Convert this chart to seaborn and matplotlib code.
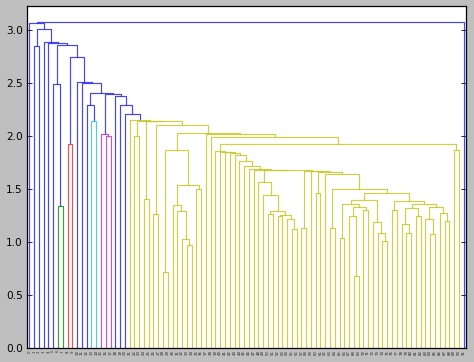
import numpy as np
import pandas as pd
import seaborn as sns
import matplotlib.pyplot as plt

# dendrogram: a node is (left, right, merge height), a leaf is its id
green = (6, 7, 1.34)
red = (8, 9, 1.93)
cyan = (13, 14, 2.14)
magenta = (15, (16, 17, 2.005), 2.02)

# yellow cluster, left part
pair_d = (22, 23, 2.0)
pair_q = (24, 25, 1.41)
pair_p = (26, 27, 1.27)
z1 = ((28, 29, 0.72),
      ((30, (31, (32, (33, 34, 0.97), 1.03), 1.29), 1.35), (35, 36, 1.50), 1.54),
      1.87)
t1 = (48, (49, ((50, 51, 1.27), ((52, 53, 1.25), (54, (55, 56, 1.12), 1.22), 1.26), 1.29), 1.45), 1.57)

# yellow cluster, right part
c1xx = ((65, 66, 1.04), ((67, (68, 69, 0.68), 1.25), (70, 71, 1.30), 1.33), 1.36)
chain119 = (72, (73, (74, 75, 1.01), 1.09), 1.19)
c140 = (c1xx, chain119, 1.40)
c132 = ((78, (79, 80, 1.09), 1.17), (81, 82, 1.25), 1.32)
c136 = (c132, ((83, (84, 85, 1.08), 1.22), (86, (87, 88, 1.20), 1.28), 1.33), 1.36)
c139 = ((76, 77, 1.30), c136, 1.39)
c150 = ((63, 64, 1.13), (c140, c139, 1.46), 1.50)
u = ((57, 58, 1.13), (59, ((60, 61, 1.46), (62, c150, 1.64), 1.66), 1.668), 1.67)
right_pair = (89, 90, 1.87)

stair_leaves = [39, 40, 41, 42, 43, 44, 45, 46, 47]
stair_heights = [1.86, 1.855, 1.85, 1.84, 1.82, 1.77, 1.72, 1.69, 1.685]

node = (t1, u, 1.68)
for leaf, h in zip(stair_leaves[::-1], stair_heights[::-1]):
    node = (leaf, node, h)

yellow = (21, (pair_d, (pair_q, (pair_p, (z1, (37, (38, (node, right_pair, 1.93), 1.99), 2.02), 2.03), 2.11), 2.14), 2.145), 2.15)

# blue links above the colour threshold
nl = (20, yellow, 2.21)
nk = (19, nl, 2.30)
nj = (18, nk, 2.385)
ni = (magenta, nj, 2.40)
nh = ((12, cyan, 2.30), ni, 2.41)
ng = (10, (11, nh, 2.50), 2.51)
nd = ((5, green, 2.49), (red, ng, 2.745), 2.867)
nb = ((1, 2, 2.85), (3, (4, nd, 2.885), 2.89), 3.015)
root = ((0, nb, 3.075), 91, 3.08)

top = root[2]
threshold = 0.7 * top
cycle = ['g', 'r', 'c', 'm', 'y', 'k']
palette = {'b': (0.15, 0.15, 0.95), 'g': (0.1, 0.55, 0.1), 'r': (0.95, 0.2, 0.2),
           'c': (0.2, 0.78, 0.78), 'm': (0.78, 0.2, 0.78), 'y': (0.78, 0.78, 0.15),
           'k': (0, 0, 0)}

rows = []
leaves = []
n_clusters = [0]


def layout(nd_, colour):
    if not isinstance(nd_, tuple):
        leaves.append(nd_)
        return 5 + 10 * (len(leaves) - 1), 0.0
    left, right, h = nd_
    if colour is None and h < threshold:
        colour = cycle[n_clusters[0] % len(cycle)]
        n_clusters[0] += 1
    xl, hl = layout(left, colour)
    xr, hr = layout(right, colour)
    link = len(rows)
    c = colour if colour else 'b'
    for x, y in [(xl, hl), (xl, h), (xr, h), (xr, hr)]:
        rows.append(dict(link=link, x=x, y=y, colour=c))
    return (xl + xr) / 2, h


layout(root, None)
df = pd.DataFrame(rows)
n = len(leaves)

sns.set_style('white')
fig = plt.figure(figsize=(4.74, 3.62), dpi=100, facecolor='0.75')
ax = fig.add_axes([27 / 474, 14 / 362, 439 / 474, 342.3 / 362])
sns.lineplot(data=df, x='x', y='y', units='link', hue='colour', palette=palette,
             estimator=None, sort=False, legend=False, lw=0.85, alpha=0.85, ax=ax)

ax.set_xlim(0, 10 * n)
ax.set_ylim(0, top * 1.05)
ax.set_xlabel('')
ax.set_ylabel('')
ax.set_xticks([5 + 10 * i for i in range(n)])
ax.set_xticklabels([str(l) for l in leaves], rotation=90, fontsize=2.8)
ax.set_yticks(np.arange(0, 3.01, 0.5))
ax.set_yticklabels(['%.1f' % v for v in np.arange(0, 3.01, 0.5)])
ax.tick_params(axis='x', length=0, pad=1.5)
ax.tick_params(axis='y', direction='in', left=True, right=True, length=3.5,
               width=0.6, labelsize=7.6, pad=3, colors='black')
for s in ax.spines.values():
    s.set_color('black')
    s.set_linewidth(0.9)

fig.savefig('out.png', dpi=100, facecolor=fig.get_facecolor())
